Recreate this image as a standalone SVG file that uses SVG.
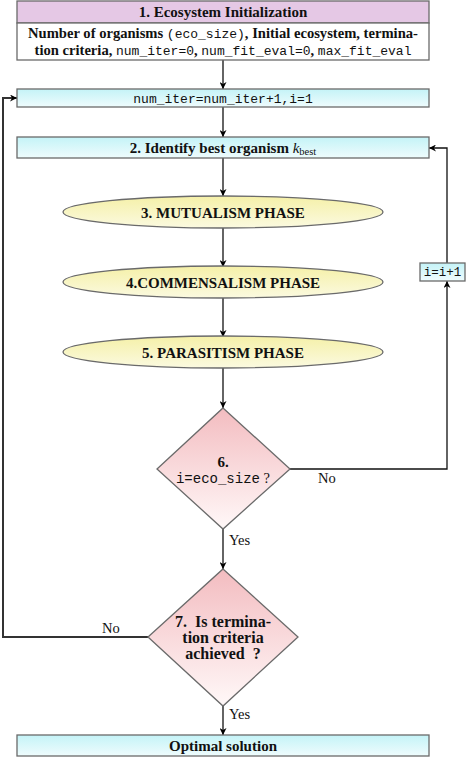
<svg xmlns="http://www.w3.org/2000/svg" width="474" height="757" viewBox="0 0 474 757">
<defs>
<linearGradient id="gCyan" x1="0" y1="0" x2="0" y2="1"><stop offset="0" stop-color="#c4f3f7"/><stop offset="1" stop-color="#effcfd"/></linearGradient>
<linearGradient id="gYel" x1="0" y1="0" x2="0" y2="1"><stop offset="0" stop-color="#f5f0a8"/><stop offset="1" stop-color="#fbfae0"/></linearGradient>
<linearGradient id="gPink" x1="0" y1="0" x2="0" y2="1"><stop offset="0" stop-color="#f3bcc0"/><stop offset="1" stop-color="#fff8f8"/></linearGradient>
<marker id="ah" viewBox="0 0 10 10" refX="10" refY="5" markerWidth="7" markerHeight="7" markerUnits="userSpaceOnUse" orient="auto"><path d="M0,0 L10,5 L0,10 L3,5 z" fill="#000"/></marker>
</defs>
<style>
.box{stroke:#6a6a6a;stroke-width:1.3}
.t{font-family:"Liberation Serif",serif;font-weight:bold;font-size:15px;fill:#111}
.b{font-size:14.6px}
.m{font-family:"Liberation Mono",monospace;font-weight:normal;font-size:13px;fill:#111}
.n{font-family:"Liberation Serif",serif;font-size:14.5px;fill:#111}
.c{fill:none;stroke:#111;stroke-width:1.3}
</style>
<rect width="474" height="757" fill="#fff"/>
<g id="connectors">
<line class="c" x1="223" y1="60" x2="223" y2="89" marker-end="url(#ah)"/>
<line class="c" x1="223" y1="107" x2="223" y2="137" marker-end="url(#ah)"/>
<line class="c" x1="223" y1="158" x2="223" y2="196" marker-end="url(#ah)"/>
<line class="c" x1="223" y1="228" x2="223" y2="267" marker-end="url(#ah)"/>
<line class="c" x1="223" y1="298" x2="223" y2="337" marker-end="url(#ah)"/>
<line class="c" x1="223" y1="368" x2="223" y2="408" marker-end="url(#ah)"/>
<line class="c" x1="223" y1="529" x2="223" y2="569" marker-end="url(#ah)"/>
<line class="c" x1="223" y1="706" x2="223" y2="735" marker-end="url(#ah)"/>
<polyline class="c" points="290,469 447,469 447,281" marker-end="url(#ah)"/>
<polyline class="c" points="447,263 447,148 429,148" marker-end="url(#ah)"/>
<polyline class="c" points="148,637 3,637 3,98 17,98" marker-end="url(#ah)" style="stroke:#333;stroke-width:2"/>
<text class="n" x="318" y="483">No</text>
<text class="n" x="229" y="545">Yes</text>
<text class="n" x="102" y="633">No</text>
<text class="n" x="229" y="719">Yes</text>
</g>
<g id="n1">
<rect class="box" x="17" y="1" width="412" height="22" fill="#e5c8e5"/>
<rect class="box" x="17" y="23" width="412" height="37" fill="#fff"/>
<text class="t" x="223" y="17" text-anchor="middle">1. Ecosystem Initialization</text>
<text class="t b" x="223" y="37.5" text-anchor="middle" xml:space="preserve">Number of organisms <tspan class="m">(eco_size)</tspan>, Initial ecosystem, termina-</text>
<text class="t b" x="223" y="54.5" text-anchor="middle" xml:space="preserve">tion criteria, <tspan class="m">num_iter=0</tspan>, <tspan class="m">num_fit_eval=0</tspan>, <tspan class="m">max_fit_eval</tspan></text>
</g>
<g id="n_iter">
<rect class="box" x="17" y="89" width="412" height="18" fill="url(#gCyan)"/>
<text class="m" x="223" y="102.5" text-anchor="middle">num_iter=num_iter+1,i=1</text>
</g>
<g id="n2">
<rect class="box" x="17" y="137" width="412" height="21" fill="url(#gCyan)"/>
<text class="t" x="223" y="152.5" text-anchor="middle" xml:space="preserve">2. Identify best organism <tspan font-style="italic" font-weight="normal">k</tspan><tspan font-weight="normal" font-size="10.5" dy="2.5">best</tspan></text>
</g>
<g id="n3">
<ellipse class="box" cx="223" cy="212" rx="160" ry="16" fill="url(#gYel)"/>
<text class="t" x="223" y="217.5" text-anchor="middle">3. MUTUALISM PHASE</text>
</g>
<g id="n4">
<ellipse class="box" cx="223" cy="282" rx="160" ry="16" fill="url(#gYel)"/>
<text class="t" x="223" y="287.5" text-anchor="middle">4.COMMENSALISM PHASE</text>
</g>
<g id="n5">
<ellipse class="box" cx="223" cy="352" rx="160" ry="16" fill="url(#gYel)"/>
<text class="t" x="223" y="357.5" text-anchor="middle">5. PARASITISM PHASE</text>
</g>
<g id="n6">
<polygon class="box" points="223,408 290,469 223,529 157,469" fill="url(#gPink)"/>
<text class="t" x="223" y="467" text-anchor="middle">6.</text>
<text class="m" x="223" y="483" text-anchor="middle" style="font-size:14px" xml:space="preserve">i=eco_size<tspan class="n"> ?</tspan></text>
</g>
<g id="n7">
<polygon class="box" points="223,569 298,637 223,706 148,637" fill="url(#gPink)"/>
<text class="t" x="223" y="627" text-anchor="middle" style="font-size:16px" xml:space="preserve">7.  Is termina-</text>
<text class="t" x="223" y="643" text-anchor="middle" style="font-size:16px">tion criteria</text>
<text class="t" x="223" y="659" text-anchor="middle" style="font-size:16px" xml:space="preserve">achieved  ?</text>
</g>
<g id="n_inc">
<rect class="box" x="420" y="263" width="45" height="18" fill="url(#gCyan)"/>
<text class="m" x="442.5" y="276" text-anchor="middle" style="font-size:12.5px">i=i+1</text>
</g>
<g id="n_opt">
<rect class="box" x="17" y="735" width="412" height="21" fill="url(#gCyan)"/>
<text class="t" x="223" y="750.5" text-anchor="middle">Optimal solution</text>
</g>
</svg>
